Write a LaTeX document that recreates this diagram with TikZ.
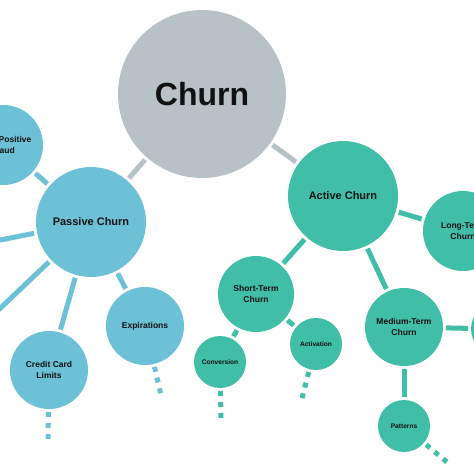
\documentclass[tikz,border=0pt]{standalone}
\usepackage{fontspec}
\setmainfont{Liberation Sans}
\usepackage{xcolor}
\usetikzlibrary{positioning}

\definecolor{churngray}{HTML}{B7C1C6}
\definecolor{passiveblue}{HTML}{6CC1D7}
\definecolor{activeteal}{HTML}{40BEA7}
\definecolor{labelink}{HTML}{111111}

\begin{document}
\begin{tikzpicture}[
            x=1pt, y=-1pt,
            every node/.style={circle, align=center, inner sep=0pt, outer sep=3pt, text=labelink, font=\bfseries},
            rootnode/.style={fill=churngray, minimum size=168pt, font=\bfseries\fontsize{32}{36}\selectfont},
            passivenode/.style={fill=passiveblue, minimum size=#1},
            activenode/.style={fill=activeteal, minimum size=#1},
            bigtext/.style={font=\bfseries\fontsize{11}{13}\selectfont},
            midtext/.style={font=\bfseries\fontsize{8.5}{10.5}\selectfont},
            smalltext/.style={font=\bfseries\fontsize{6.6}{8}\selectfont},
            grayedge/.style={line width=5pt, draw=churngray},
            blueedge/.style={line width=5pt, draw=passiveblue},
            tealedge/.style={line width=5pt, draw=activeteal},
            bluetail/.style={blueedge, dash pattern=on 5pt off 6pt},
            tealtail/.style={tealedge, dash pattern=on 5pt off 6pt}
          ]

          \useasboundingbox (0,0) rectangle (474,474);
          \clip (0,0) rectangle (474,474);

          % Nodes
          \node[rootnode] (churn) at (202,94) {Churn};
          \node[passivenode=110pt, bigtext] (passive) at (91,222) {Passive Churn};
          \node[passivenode=80pt, midtext] (fraud) at (3,145) {False Positive\\Fraud};
          \node[passivenode=78pt, midtext] (limits) at (49,370) {Credit Card\\Limits};
          \node[passivenode=78pt, midtext] (expiry) at (145,326) {Expirations};
          \node[activenode=110pt, bigtext] (active) at (343,196) {Active Churn};
          \node[activenode=80pt, midtext] (longterm) at (463,231) {Long-Term\\Churn};
          \node[activenode=78pt, midtext] (medterm) at (404,327) {Medium-Term\\Churn};
          \node[activenode=54pt, midtext] (extra) at (498,329) {};
          \node[activenode=52pt, smalltext] (patterns) at (404,426) {Patterns};
          \node[activenode=76pt, midtext] (shortterm) at (256,294) {Short-Term\\Churn};
          \node[activenode=52pt, smalltext] (conversion) at (220,362) {Conversion};
          \node[activenode=52pt, smalltext] (activation) at (316,344) {Activation};

          % Loose ends
          \coordinate (leftA) at (-30,246);
          \coordinate (leftB) at (-30,337);
          \coordinate (limitsEnd) at (48,442);
          \coordinate (expiryEnd) at (161,395);
          \coordinate (conversionEnd) at (221,419);
          \coordinate (activationEnd) at (301,402);
          \coordinate (patternsEnd) at (448,463);

          % Edges
          \draw[grayedge] (churn) -- (passive);
          \draw[grayedge] (churn) -- (active);
          \draw[blueedge] (passive) -- (fraud);
          \draw[blueedge] (passive) -- (leftA);
          \draw[blueedge] (passive) -- (leftB);
          \draw[blueedge] (passive) -- (limits);
          \draw[blueedge] (passive) -- (expiry);
          \draw[tealedge] (active) -- (longterm);
          \draw[tealedge] (active) -- (medterm);
          \draw[tealedge] (active) -- (shortterm);
          \draw[tealedge] (medterm) -- (extra);
          \draw[tealedge] (medterm) -- (patterns);
          \draw[tealedge] (shortterm) -- (conversion);
          \draw[tealedge] (shortterm) -- (activation);

          % Tails
          \draw[bluetail] (limits) -- (limitsEnd);
          \draw[bluetail] (expiry) -- (expiryEnd);
          \draw[tealtail] (conversion) -- (conversionEnd);
          \draw[tealtail] (activation) -- (activationEnd);
          \draw[tealtail] (patterns) -- (patternsEnd);

        \end{tikzpicture}
\end{document}
